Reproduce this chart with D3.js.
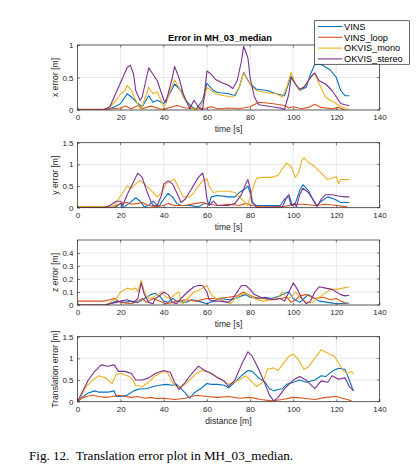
<!DOCTYPE html>
<html><head><meta charset="utf-8">
<script src="https://cdn.jsdelivr.net/npm/d3@7"></script>
<style>
body{margin:0;background:#fff;}
text{font-family:"Liberation Sans",Arial,Helvetica,sans-serif;}
</style></head>
<body><svg id="c" width="419" height="474"></svg>
<script>
const seriesNames = ["VINS","VINS_loop","OKVIS_mono","OKVIS_stereo"];
const seriesColors = ["#0072BD","#D95319","#EDB120","#7E2F8E"];
const xTicks = [0,20,40,60,80,100,120,140];

// Panel 1: x error [m] vs time [s]
const xErrVINS = [[0,0],[12,0],[15,0.02],[18,0.06],[20,0.1],[23,0.25],[25,0.2],[28,0.1],[30,0.05],[33,0.22],[35,0.12],[37,0.15],[40,0.1],[42,0.2],[45,0.4],[48,0.3],[50,0.15],[53,0.05],[55,0.01],[58,0.15],[60,0.41],[63,0.3],[65,0.27],[70,0.25],[73,0.22],[75,0.35],[77,0.58],[80,0.4],[83,0.32],[88,0.3],[92,0.25],[96,0.22],[99,0.52],[101,0.4],[103,0.3],[106,0.35],[108,0.55],[110,0.7],[113,0.7],[117,0.62],[120,0.5],[122,0.3],[124,0.22],[126,0.22]];
const xErrLoop = [[0,0.01],[12,0.01],[16,0.02],[20,0.03],[22,0.06],[25,0.02],[28,0.07],[30,0.02],[34,0.06],[38,0.02],[40,0.01],[44,0.05],[46,0.07],[50,0.03],[55,0.02],[60,0.03],[62,0.05],[65,0.02],[70,0.03],[75,0.02],[80,0.05],[84,0.12],[90,0.1],[96,0.07],[98,0.03],[100,0.05],[104,0.02],[107,0.04],[110,0.09],[113,0.04],[118,0.02],[121,0.04],[124,0]];
const xErrMono = [[0,0],[12,0],[15,0.05],[18,0.15],[20,0.25],[22,0.3],[23,0.38],[25,0.3],[27,0.15],[29,0.02],[30,0.05],[32,0.25],[33,0.35],[35,0.25],[37,0.28],[38,0.2],[40,0.05],[41,0.1],[43,0.3],[45,0.46],[47,0.35],[49,0.2],[51,0.1],[53,0.03],[55,0],[57,0.05],[59,0.2],[60,0.35],[62,0.3],[64,0.25],[68,0.22],[72,0.2],[75,0.35],[77,0.57],[79,0.45],[81,0.35],[83,0.3],[87,0.27],[92,0.25],[95,0.2],[97,0.35],[99,0.58],[101,0.4],[103,0.3],[106,0.4],[109,0.55],[110,0.56],[112,0.4],[115,0.2],[117,0.15],[119,0.12],[122,0.05],[125,0.02],[126,0]];
const xErrStereo = [[0,0],[12,0],[15,0.05],[17,0.2],[19,0.35],[21,0.5],[23,0.65],[24.5,0.69],[26,0.55],[27,0.3],[29,0.15],[30,0.2],[32,0.5],[33,0.65],[35,0.55],[37,0.45],[38,0.35],[40,0.15],[41,0.12],[42,0.25],[44,0.5],[45,0.67],[47,0.5],[49,0.25],[51,0.1],[52,0.02],[54,0.15],[56,0.05],[58,0],[59,0.3],[60,0.6],[62,0.55],[64,0.47],[67,0.42],[70,0.38],[72,0.33],[74,0.45],[76,0.75],[77,0.98],[79,0.8],[80,0.5],[82,0.2],[84,0.08],[90,0.05],[94,0.03],[96,0.01],[98,0.25],[99,0.5],[101,0.4],[103,0.32],[105,0.35],[108,0.5],[110,0.57],[112,0.45],[115,0.4],[118,0.3],[120,0.2],[122,0.1],[124,0.08],[126,0.07]];

// Panel 2: y error [m] vs time [s]
const yErrVINS = [[0,0.02],[18,0.02],[20,0.1],[21,0],[24,0.1],[27,0.23],[29,0.15],[31,0.02],[33,0.05],[35,0.15],[37,0.05],[38,0.05],[40,0.2],[42,0.33],[44,0.25],[46,0.1],[48,0.05],[52,0.05],[56,0.02],[59,0.1],[61,0.08],[62,0.25],[65,0.28],[70,0.25],[73,0.25],[75,0.35],[78,0.45],[79,0.5],[80,0.35],[81,0.1],[83,0.05],[90,0.05],[94,0.05],[96,0.2],[98,0.25],[99,0.05],[101,0.1],[103,0.4],[104.5,0.53],[107,0.4],[109,0.2],[111,0.05],[113,0.15],[116,0.25],[119,0.2],[122,0.12],[126,0.12]];
const yErrLoop = [[0,0.02],[15,0.02],[18,0.05],[20,0.1],[23,0.12],[25,0.08],[28,0.1],[30,0.12],[33,0.05],[36,0.02],[40,0.05],[42,0.1],[45,0.05],[50,0.05],[55,0.1],[58,0.12],[61,0.08],[65,0.05],[70,0.08],[75,0.05],[78,0.1],[81,0.05],[85,0.02],[95,0.02],[98,0.05],[101,0.08],[105,0.08],[110,0.05],[115,0.08],[120,0.05],[125,0.02]];
const yErrMono = [[0,0.02],[17,0.02],[19,0.2],[21,0.35],[23,0.5],[25,0.45],[27,0.55],[29,0.63],[31,0.55],[33,0.45],[36,0.3],[37,0.25],[39,0.35],[41,0.55],[43,0.62],[45,0.65],[47,0.45],[49,0.25],[52,0.25],[54,0.35],[56,0.5],[58,0.62],[60,0.67],[61,0.5],[63,0.35],[66,0.38],[70,0.38],[73,0.35],[75,0.25],[77,0.15],[79,0.05],[80,0.25],[82,0.55],[83,0.68],[86,0.7],[90,0.7],[93,0.75],[95,0.9],[97,1.03],[99,0.95],[101,0.7],[102.5,0.8],[104,1.1],[105,1.15],[107,1.05],[110,0.95],[113,0.8],[116,0.65],[118,0.68],[120,0.72],[121,0.55],[122,0.65],[126,0.65]];
const yErrStereo = [[0,0],[12,0],[15,0.05],[18,0.15],[20,0.15],[21,0.05],[23,0.3],[25,0.5],[27,0.7],[28,0.8],[30,0.7],[32,0.4],[34,0.15],[35,0.05],[37,0.05],[39,0.3],[40,0.55],[42,0.62],[44,0.55],[46,0.35],[48,0.12],[50,0.2],[53,0.45],[56,0.7],[58,0.8],[59,0.6],[60,0.2],[61,0.05],[63,0.15],[65,0.05],[70,0.05],[73,0.1],[76,0.3],[78,0.55],[79,0.65],[80,0.45],[81,0.15],[83,0],[95,0.02],[97,0.25],[98,0.3],[99.5,0.05],[100.5,0.1],[101.5,0.02],[103,0.3],[104.5,0.45],[107,0.35],[109,0.2],[111,0.02],[113,0.2],[115,0.3],[118,0.3],[121,0.27],[124,0.25],[126,0.25]];

// Panel 3: z error [m] vs time [s]
const zErrVINS = [[0,0],[13,0],[15,0.01],[18,0.03],[22,0.02],[25,0.03],[28,0.02],[31,0.05],[34,0.08],[36,0.09],[38,0.07],[40,0.03],[42,0.02],[44,0.05],[46,0.03],[50,0.02],[53,0.04],[56,0.03],[58,0.02],[60,0.01],[63,0.03],[66,0.05],[70,0.04],[73,0.05],[76,0.07],[78,0.08],[80,0.06],[84,0.05],[87,0.06],[90,0.05],[94,0.07],[96,0.09],[98,0.1],[100,0.05],[103,0.02],[105,0.05],[107,0.08],[109,0.06],[112,0.03],[116,0.02],[120,0.01],[126,0.015]];
const zErrLoop = [[0,0.03],[12,0.03],[15,0.04],[17,0.05],[20,0.02],[25,0.01],[28,0.03],[30,0.05],[32,0.02],[35,0.05],[38,0.03],[41,0.01],[44,0.02],[47,0.03],[50,0.04],[55,0.03],[60,0.05],[65,0.05],[70,0.06],[74,0.07],[77,0.1],[79,0.08],[82,0.06],[86,0.05],[90,0.04],[94,0.05],[97,0.06],[99,0.02],[101,0.04],[103,0.07],[106,0.08],[110,0.05],[114,0.06],[117,0.04],[120,0.05],[122,0.03],[125,0.01]];
const zErrMono = [[0,0],[13,0],[15,0.02],[18,0.05],[20,0.1],[23,0.13],[25,0.12],[27,0.13],[28,0.1],[29.5,0.19],[31,0.1],[33,0.05],[35,0.06],[37,0.08],[39,0.1],[41,0.06],[43,0.05],[45,0.08],[47,0.1],[48,0.02],[49,0.01],[51,0.05],[54,0.1],[57,0.12],[60,0.15],[62,0.08],[64,0.05],[68,0.03],[71,0.01],[73,0.05],[76,0.08],[78,0.09],[80,0.07],[83,0.04],[86,0.03],[90,0.04],[93,0.06],[95,0.1],[97,0.05],[99,0.06],[101,0.1],[104,0.05],[106,0.02],[109,0.02],[111,0.05],[114,0.08],[117,0.12],[120,0.12],[123,0.13],[126,0.14]];
const zErrStereo = [[0,0],[13,0],[15,0.01],[18,0.02],[20,0.03],[23,0.04],[26,0.02],[28,0.05],[29.5,0.17],[31,0.08],[33,0.02],[35,0.01],[36,0.05],[38,0.07],[40,0.1],[42,0.08],[44,0.02],[46,0.01],[48,0.05],[51,0.1],[54,0.14],[56,0.15],[58,0.15],[60,0.1],[61,0.04],[63,0.03],[66,0.03],[70,0.02],[72,0.05],[74,0.1],[76,0.15],[78,0.15],[80,0.12],[82,0.08],[85,0.06],[88,0.05],[91,0.04],[94,0.05],[96,0.03],[98,0.1],[100,0.17],[102,0.12],[104,0.05],[106,0.01],[108,0.03],[110,0.1],[112,0.14],[115,0.13],[118,0.12],[120,0.1],[122,0.08],[124,0.07],[126,0.075]];

// Panel 4: Translation error [m] vs distance [m]
const tErrVINS = [[0,0],[2,0.1],[5,0.2],[8,0.25],[10,0.22],[14,0.22],[17,0.25],[18,0.12],[20,0.12],[23,0.15],[26,0.25],[29,0.3],[32,0.3],[35,0.35],[38,0.38],[41,0.4],[44,0.38],[46,0.4],[48,0.3],[50,0.2],[52,0.08],[54,0.2],[57,0.3],[60,0.42],[62,0.4],[65,0.4],[68,0.38],[70,0.32],[73,0.45],[76,0.6],[79,0.72],[81,0.7],[84,0.55],[87,0.45],[89,0.3],[91,0.25],[93,0.28],[95,0.3],[97,0.4],[100,0.45],[103,0.5],[106,0.45],[110,0.5],[113,0.6],[115,0.58],[118,0.7],[121,0.77],[124,0.75],[126,0.5],[127.5,0.3],[128,0.25]];
const tErrLoop = [[0,0],[2,0.08],[4,0.12],[7,0.15],[10,0.12],[13,0.1],[16,0.12],[19,0.15],[22,0.12],[25,0.1],[28,0.12],[31,0.08],[34,0.1],[37,0.07],[40,0.08],[45,0.05],[50,0.08],[55,0.15],[60,0.12],[65,0.1],[70,0.12],[75,0.08],[80,0.1],[85,0.05],[90,0.02],[95,0.05],[100,0.1],[105,0.08],[110,0.05],[115,0.1],[120,0.12],[125,0.05],[127,0.02]];
const tErrMono = [[0,0],[2,0.15],[4,0.35],[7,0.5],[10,0.6],[13,0.55],[16,0.42],[18,0.62],[20,0.65],[23,0.6],[25,0.55],[27,0.38],[30,0.35],[33,0.45],[36,0.6],[40,0.7],[42,0.65],[44,0.45],[46,0.35],[48,0.35],[50,0.4],[52,0.5],[55,0.65],[58,0.72],[61,0.68],[64,0.6],[67,0.5],[70,0.4],[75,0.5],[78,0.6],[81,0.45],[83,0.35],[86,0.45],[88,0.75],[91,0.78],[93,0.72],[95,0.85],[98,1.05],[100,1.1],[102,1.0],[105,0.75],[107,0.8],[110,1.0],[113,1.2],[116,1.12],[119,1.05],[121,0.9],[123,0.72],[125,0.65],[127,0.7],[128,0.65]];
const tErrStereo = [[0,0],[2,0.2],[5,0.5],[8,0.7],[11,0.85],[14,0.82],[17,0.85],[19,0.7],[22,0.7],[25,0.65],[27,0.5],[30,0.5],[33,0.55],[36,0.65],[40,0.72],[43,0.68],[45,0.45],[47,0.28],[50,0.45],[53,0.65],[56,0.82],[59,0.72],[62,0.65],[65,0.55],[68,0.48],[70,0.35],[73,0.5],[76,0.85],[79,1.15],[81,1.05],[84,0.75],[87,0.4],[89,0.15],[91,0.02],[93,0.1],[96,0.3],[100,0.5],[103,0.58],[106,0.5],[108,0.4],[110,0.3],[113,0.48],[116,0.45],[118,0.6],[121,0.52],[124,0.55],[126,0.35],[128,0.25]];

const panels = [
  {ylabel:"x error [m]", xlabel:"time [s]", ymax:1, yticks:[0,0.5,1], data:[xErrVINS,xErrLoop,xErrMono,xErrStereo], top:45},
  {ylabel:"y error [m]", xlabel:"time [s]", ymax:1.5, yticks:[0,0.5,1,1.5], data:[yErrVINS,yErrLoop,yErrMono,yErrStereo], top:142.7},
  {ylabel:"z error [m]", xlabel:"time [s]", ymax:0.5, yticks:[0,0.1,0.2,0.3,0.4], data:[zErrVINS,zErrLoop,zErrMono,zErrStereo], top:240},
  {ylabel:"Translation error [m]", xlabel:"distance [m]", ymax:1.5, yticks:[0,0.5,1,1.5], data:[tErrVINS,tErrLoop,tErrMono,tErrStereo], top:336.7}
];

const svg = d3.select("#c");
const L = 77.5, R = 379.5, H = 65;
const x = d3.scaleLinear().domain([0,140]).range([L,R]);
const axisColor = "#262626";

panels.forEach((p,i)=>{
  const y = d3.scaleLinear().domain([0,p.ymax]).range([p.top+H,p.top]);
  const g = svg.append("g");
  g.selectAll(".gx").data(xTicks).join("line")
    .attr("x1",d=>x(d)).attr("x2",d=>x(d)).attr("y1",p.top).attr("y2",p.top+H)
    .attr("stroke","#dedede").attr("stroke-width",0.7);
  g.selectAll(".gy").data(p.yticks).join("line")
    .attr("x1",L).attr("x2",R).attr("y1",d=>y(d)).attr("y2",d=>y(d))
    .attr("stroke","#dedede").attr("stroke-width",0.7);
  const line = d3.line().x(d=>x(d[0])).y(d=>y(d[1]));
  const clipId = "clip"+i;
  svg.append("clipPath").attr("id",clipId).append("rect")
    .attr("x",L).attr("y",p.top-1).attr("width",R-L).attr("height",H+1);
  p.data.forEach((s,k)=>{
    g.append("path").datum(s).attr("d",line).attr("fill","none")
      .attr("stroke",seriesColors[k]).attr("stroke-width",1.1).attr("stroke-linejoin","round")
      .attr("clip-path",`url(#${clipId})`);
  });
  const xa = d3.axisBottom(x).tickValues(xTicks).tickSize(-2.5).tickPadding(4.5).tickFormat(d3.format("d"));
  const ya = d3.axisLeft(y).tickValues(p.yticks).tickSize(-2.5).tickPadding(4).tickFormat(d=>String(+d.toFixed(2)));
  const gx = g.append("g").attr("transform",`translate(0,${p.top+H})`).call(xa);
  const gy = g.append("g").attr("transform",`translate(${L},0)`).call(ya);
  [gx,gy].forEach(a=>{
    a.select(".domain").remove();
    a.selectAll("line").attr("stroke",axisColor).attr("stroke-width",0.6);
    a.selectAll("text").attr("fill","#262626").style("font-size","8px").style("font-family","Liberation Sans, Arial, sans-serif");
  });
  g.selectAll(".tt").data(xTicks).join("line")
    .attr("x1",d=>x(d)).attr("x2",d=>x(d)).attr("y1",p.top).attr("y2",p.top+2.5)
    .attr("stroke",axisColor).attr("stroke-width",0.6);
  g.selectAll(".rt").data(p.yticks).join("line")
    .attr("x1",R).attr("x2",R-2.5).attr("y1",d=>y(d)).attr("y2",d=>y(d))
    .attr("stroke",axisColor).attr("stroke-width",0.6);
  g.append("rect").attr("x",L).attr("y",p.top).attr("width",R-L).attr("height",H)
    .attr("fill","none").attr("stroke",axisColor).attr("stroke-width",0.7);
  g.append("text").attr("x",(L+R)/2).attr("y",p.top+H+22).attr("text-anchor","middle")
    .attr("fill","#262626").style("font-size","8.6px").text(p.xlabel);
  g.append("text").attr("transform",`translate(58,${p.top+H/2}) rotate(-90)`).attr("text-anchor","middle")
    .attr("fill","#262626").style("font-size","8.6px").text(p.ylabel);
});

svg.append("text").attr("x",220).attr("y",40.5).attr("text-anchor","middle")
  .attr("font-weight","bold").style("font-size","9.3px").attr("fill","#000").text("Error in MH_03_median");

const lg = svg.append("g");
lg.append("rect").attr("x",314.5).attr("y",20.7).attr("width",95).attr("height",43.6)
  .attr("fill","#fff").attr("stroke","#262626").attr("stroke-width",0.7);
seriesNames.forEach((n,k)=>{
  const yy = 26.5 + k*10.8;
  lg.append("line").attr("x1",318).attr("x2",342.5).attr("y1",yy).attr("y2",yy)
    .attr("stroke",seriesColors[k]).attr("stroke-width",1.1);
  lg.append("text").attr("x",344).attr("y",yy+3.3).style("font-size","9.2px").attr("fill","#000").text(n);
});

svg.append("text").attr("x",29).attr("y",459.5)
  .style("font-family","Liberation Serif, Times New Roman, serif").style("white-space","pre")
  .style("font-size","13.1px").attr("fill","#000").text("Fig. 12.  Translation error plot in MH_03_median.");
</script></body></html>
